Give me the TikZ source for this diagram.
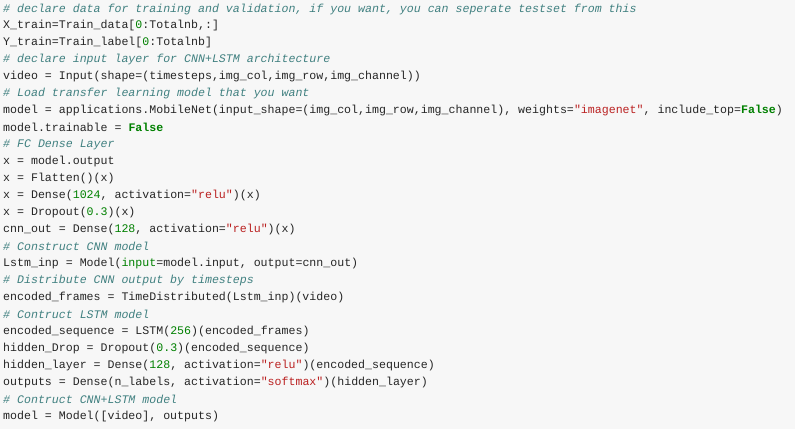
\documentclass[tikz,border=0pt]{standalone}
\usepackage{fontspec}
\setmonofont{Liberation Mono}
\definecolor{bgc}{HTML}{F7F7F7}
\definecolor{cmc}{HTML}{408080}
\definecolor{numc}{HTML}{008000}
\definecolor{strc}{HTML}{BA2121}
\newcommand{\cm}[1]{\textcolor{cmc}{\itshape #1}}
\newcommand{\nm}[1]{\textcolor{numc}{#1}}
\newcommand{\st}[1]{\textcolor{strc}{\char34 #1\char34}}
\newcommand{\kw}[1]{\textcolor{numc}{\bfseries #1}}
\tikzset{codeline/.style={anchor=west,inner sep=0pt,font=\ttfamily\fontsize{11.6}{13}\selectfont,text=black!85}}
\begin{document}
\begin{tikzpicture}[x=1pt,y=-1pt]
\fill[bgc] (0,0) rectangle (795,429);
\useasboundingbox (0,0) rectangle (795,429);
\def\ly{16.96}
\node[codeline] (l1) at (3,9+0*\ly) {\cm{\# declare data for training and validation, if you want, you can seperate testset from this}};
\node[codeline] (l2) at (3,9+1*\ly) {X\_train=Train\_data[\nm{0}:Totalnb,:]};
\node[codeline] (l3) at (3,9+2*\ly) {Y\_train=Train\_label[\nm{0}:Totalnb]};
\node[codeline] (l4) at (3,9+3*\ly) {\cm{\# declare input layer for CNN+LSTM architecture}};
\node[codeline] (l5) at (3,9+4*\ly) {video = Input(shape=(timesteps,img\_col,img\_row,img\_channel))};
\node[codeline] (l6) at (3,9+5*\ly) {\cm{\# Load transfer learning model that you want}};
\node[codeline] (l7) at (3,9+6*\ly) {model = applications.MobileNet(input\_shape=(img\_col,img\_row,img\_channel), weights=\st{imagenet}, include\_top=\kw{False})};
\node[codeline] (l8) at (3,9+7*\ly) {model.trainable = \kw{False}};
\node[codeline] (l9) at (3,9+8*\ly) {\cm{\# FC Dense Layer}};
\node[codeline] (l10) at (3,9+9*\ly) {x = model.output};
\node[codeline] (l11) at (3,9+10*\ly) {x = Flatten()(x)};
\node[codeline] (l12) at (3,9+11*\ly) {x = Dense(\nm{1024}, activation=\st{relu})(x)};
\node[codeline] (l13) at (3,9+12*\ly) {x = Dropout(\nm{0.3})(x)};
\node[codeline] (l14) at (3,9+13*\ly) {cnn\_out = Dense(\nm{128}, activation=\st{relu})(x)};
\node[codeline] (l15) at (3,9+14*\ly) {\cm{\# Construct CNN model}};
\node[codeline] (l16) at (3,9+15*\ly) {Lstm\_inp = Model(\nm{input}=model.input, output=cnn\_out)};
\node[codeline] (l17) at (3,9+16*\ly) {\cm{\# Distribute CNN output by timesteps}};
\node[codeline] (l18) at (3,9+17*\ly) {encoded\_frames = TimeDistributed(Lstm\_inp)(video)};
\node[codeline] (l19) at (3,9+18*\ly) {\cm{\# Contruct LSTM model}};
\node[codeline] (l20) at (3,9+19*\ly) {encoded\_sequence = LSTM(\nm{256})(encoded\_frames)};
\node[codeline] (l21) at (3,9+20*\ly) {hidden\_Drop = Dropout(\nm{0.3})(encoded\_sequence)};
\node[codeline] (l22) at (3,9+21*\ly) {hidden\_layer = Dense(\nm{128}, activation=\st{relu})(encoded\_sequence)};
\node[codeline] (l23) at (3,9+22*\ly) {outputs = Dense(n\_labels, activation=\st{softmax})(hidden\_layer)};
\node[codeline] (l24) at (3,9+23*\ly) {\cm{\# Contruct CNN+LSTM model}};
\node[codeline] (l25) at (3,9+24*\ly) {model = Model([video], outputs)};
\end{tikzpicture}
\end{document}
